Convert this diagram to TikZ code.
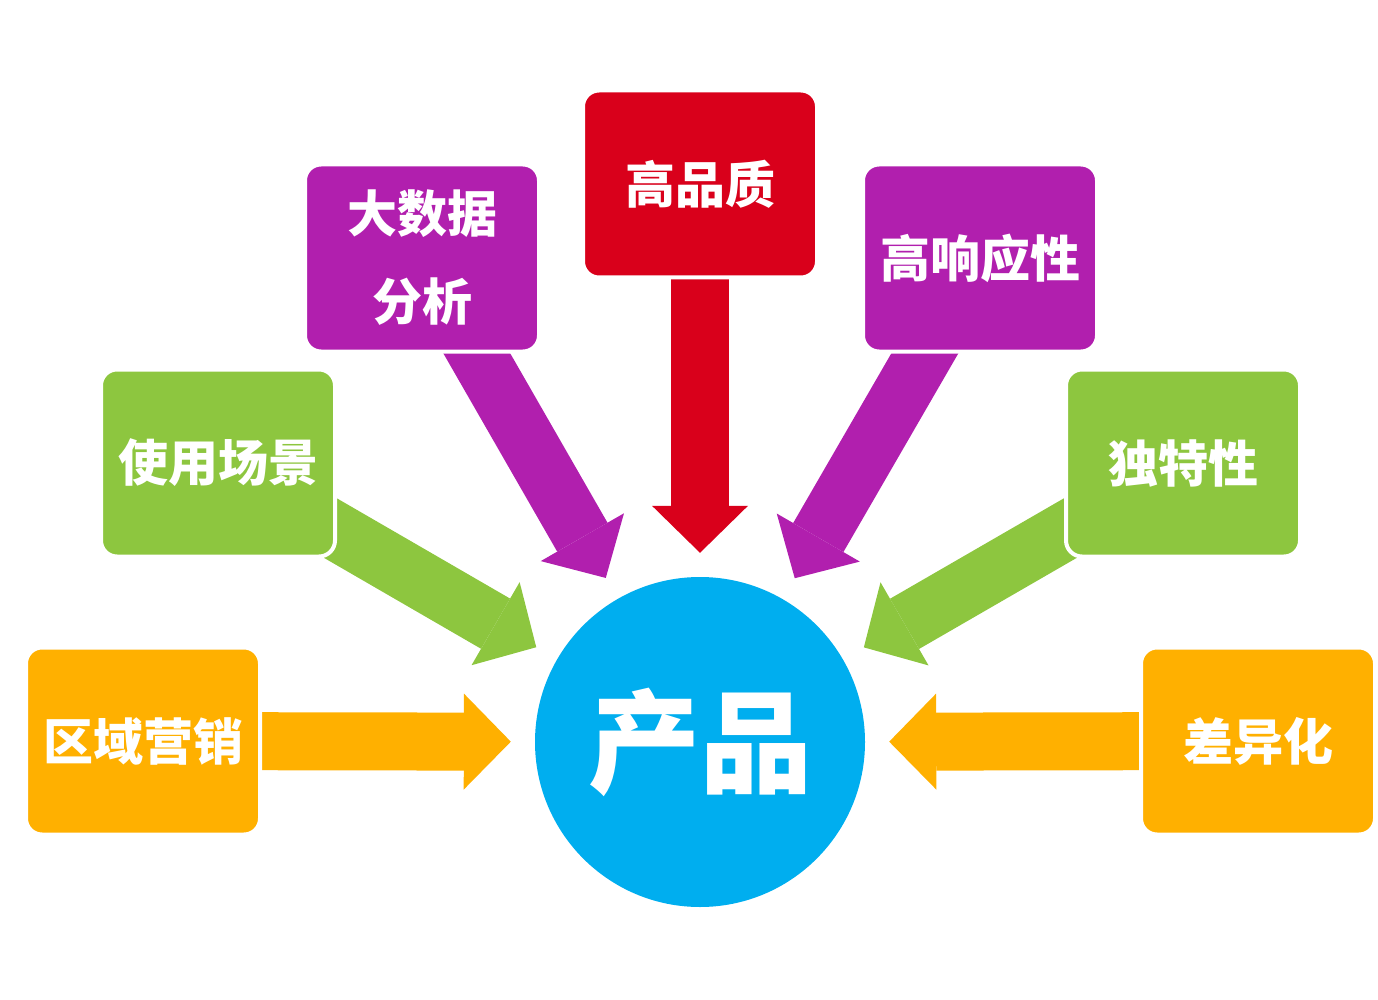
\documentclass[tikz,border=0pt]{standalone}
\usepackage{fontspec}
\newfontfamily\cjk{Noto Sans CJK SC}
\usepackage{xcolor}
\definecolor{cOrange}{HTML}{FFB000}
\definecolor{cGreen}{HTML}{8DC63F}
\definecolor{cPurple}{HTML}{B11FAE}
\definecolor{cRed}{HTML}{D9001B}
\definecolor{cBlue}{HTML}{00AEEF}
\usetikzlibrary{arrows.meta,backgrounds}
\tikzset{
  node-box/.style={draw=white,line width=4pt,rounded corners=16pt,
    minimum width=234pt,minimum height=187pt,align=center,
    text=white,font=\cjk\bfseries\fontsize{50}{88}\selectfont},
  node-core/.style={circle,fill=cBlue,minimum size=330pt,inner sep=0pt,
    text=white,font=\cjk\bfseries\fontsize{112}{120}\selectfont},
  arrow-block/.style={line width=58pt,shorten >=24pt,
    -{Triangle[length=47pt 0 0,width=96pt 0 0,line width=0pt]}},
}
\begin{document}
\begin{tikzpicture}[x=1pt,y=-1pt]
  \useasboundingbox (0,0) rectangle (1378,1000);
  \node[node-core] (prod) at (700,742) {产品};
  \node[node-box,fill=cOrange] (yx)  at (143,741)  {区域营销};
  \node[node-box,fill=cGreen]  (cj)  at (218,463)  {使用场景};
  \node[node-box,fill=cPurple] (dsj) at (422,258)  {大数据\\分析};
  \node[node-box,fill=cRed]    (gpz) at (700,184)  {高品质};
  \node[node-box,fill=cPurple] (gxy) at (980,258)  {高响应性};
  \node[node-box,fill=cGreen]  (dtx) at (1183,463) {独特性};
  \node[node-box,fill=cOrange] (cyh) at (1258,741) {差异化};
  % block arrows sit behind the boxes
  \begin{scope}[on background layer]
    \foreach \src/\col in {yx/cOrange, cj/cGreen, dsj/cPurple, gpz/cRed,
                           gxy/cPurple, dtx/cGreen, cyh/cOrange}
      \draw[arrow-block,draw=\col] (\src.center) -- (prod);
  \end{scope}
\end{tikzpicture}
\end{document}
